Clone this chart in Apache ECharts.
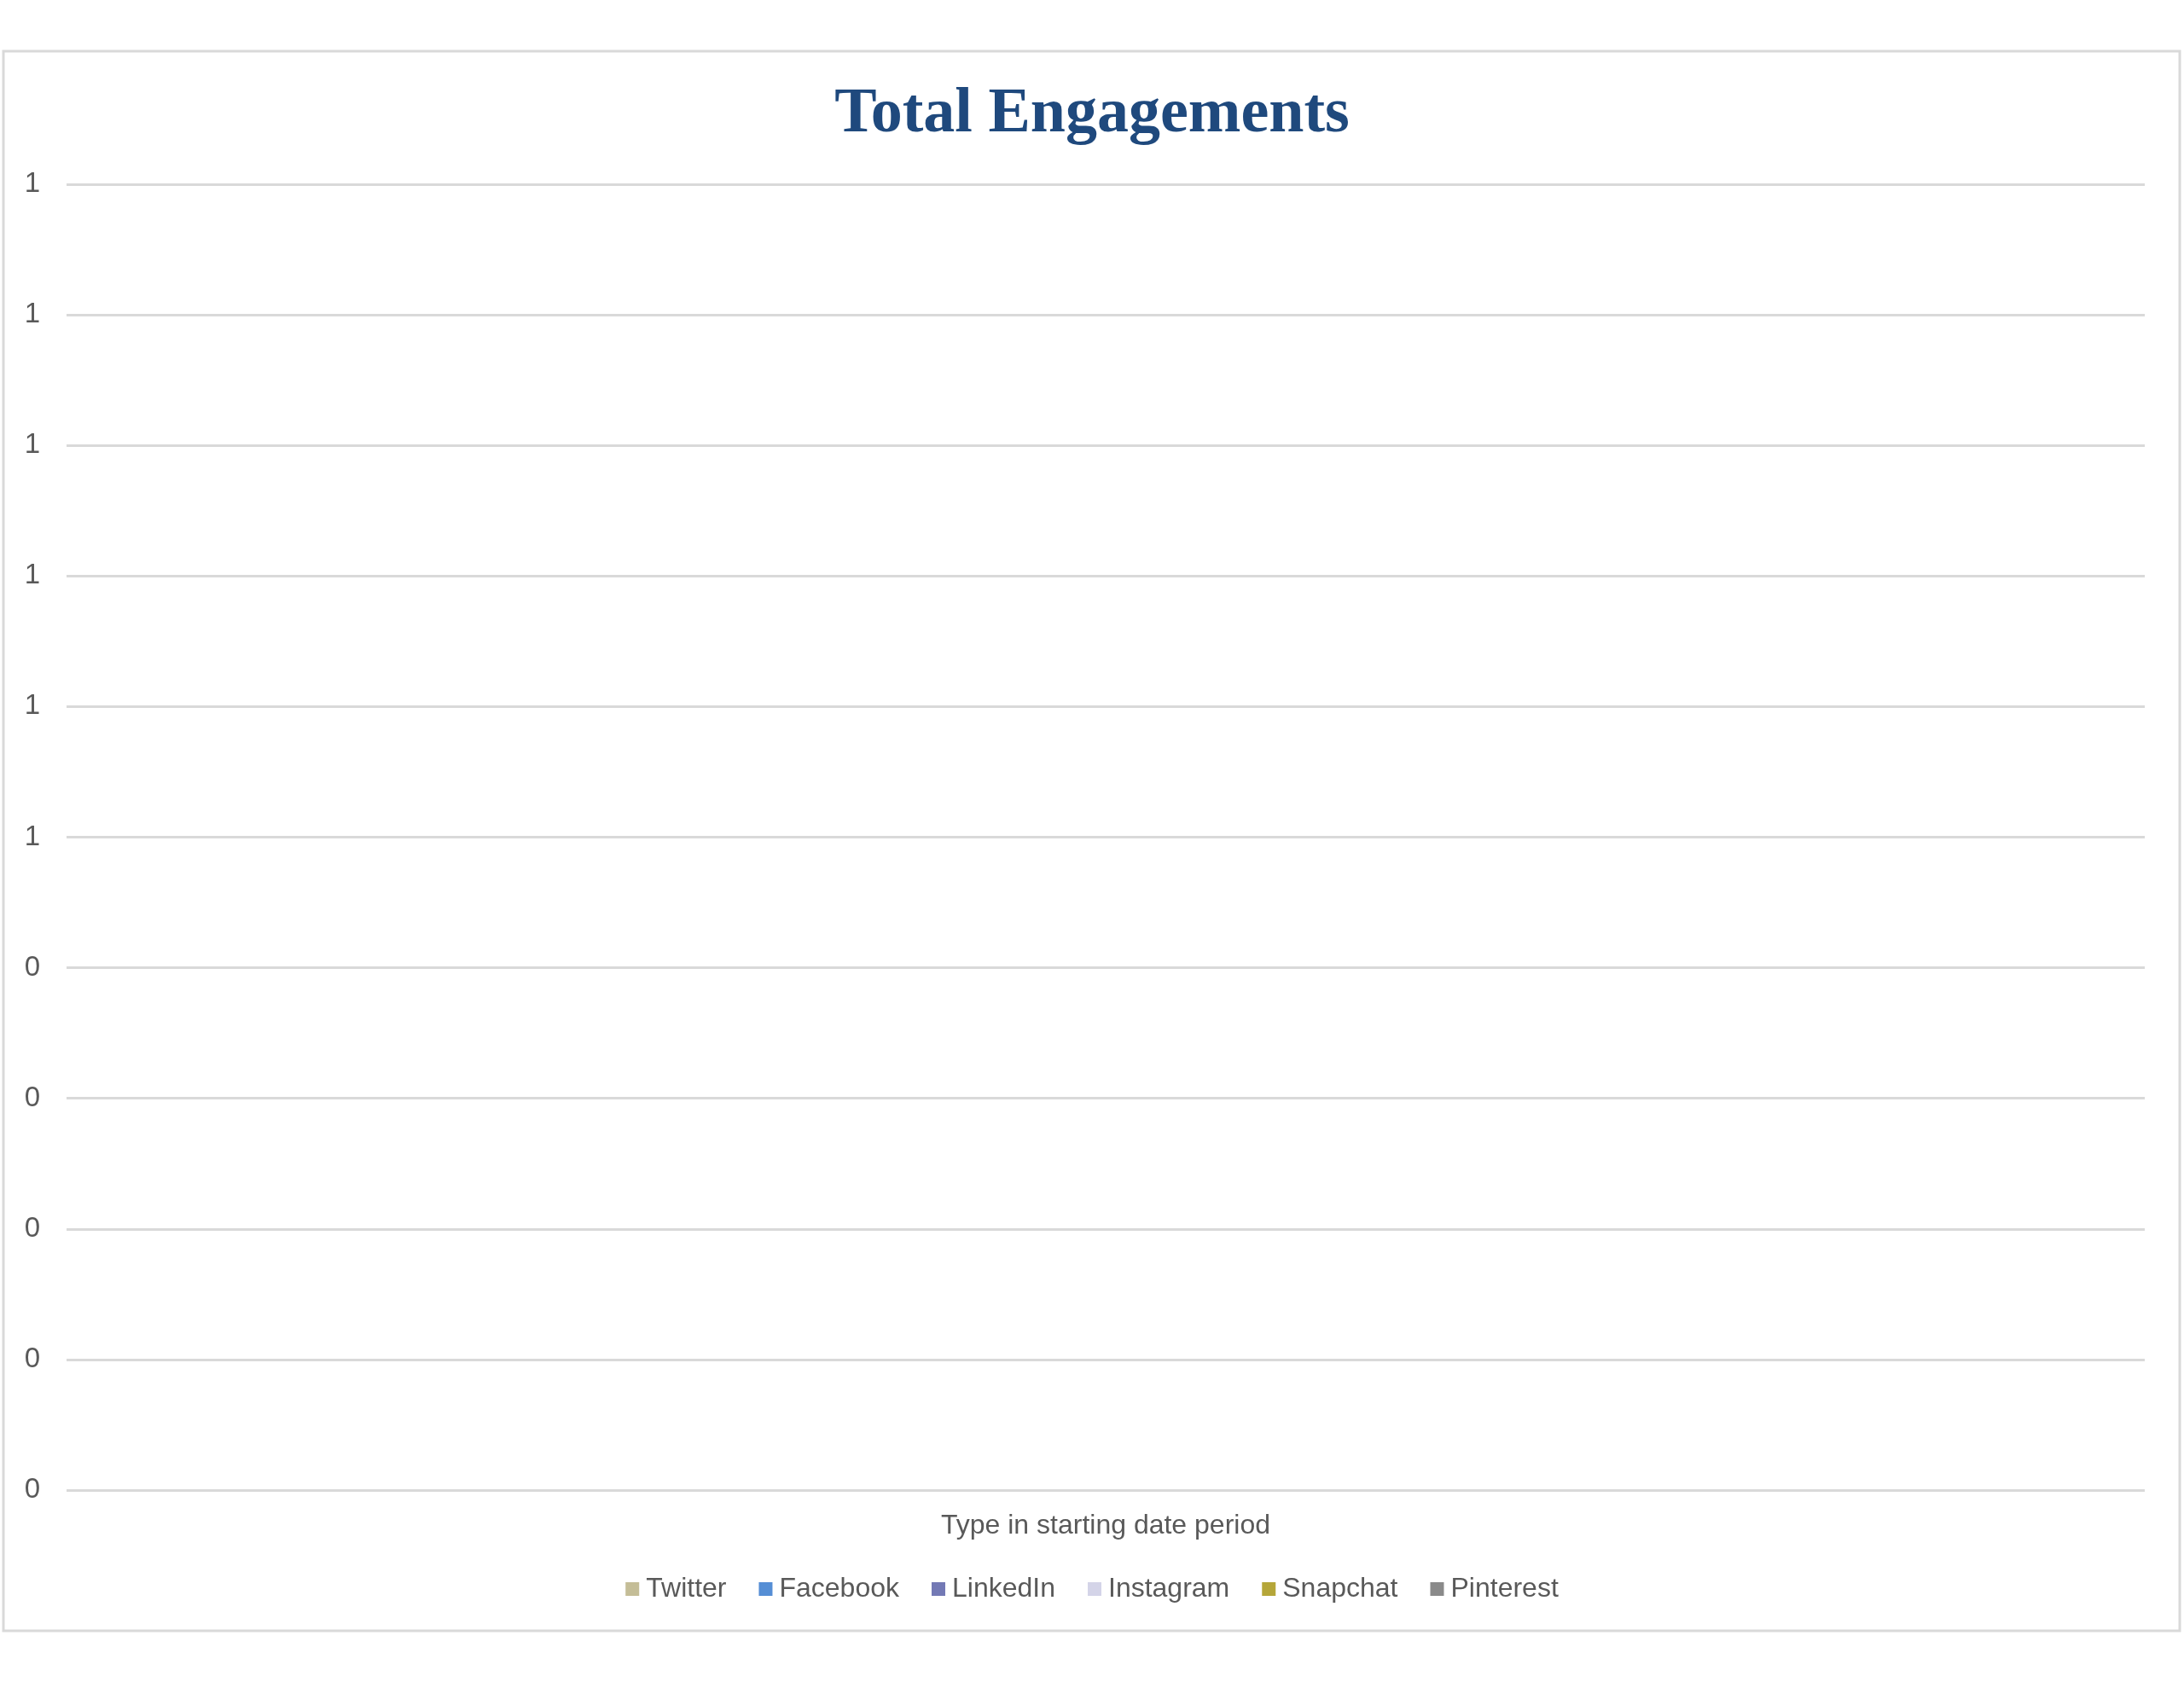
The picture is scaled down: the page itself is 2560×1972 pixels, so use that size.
<!DOCTYPE html>
<html>
<head>
<meta charset="utf-8">
<style>
  html, body { margin: 0; padding: 0; background: #ffffff; }
  #chart { width: 2560px; height: 1972px; }
</style>
<script src="https://cdn.jsdelivr.net/npm/echarts@6/dist/echarts.min.js"></script>
</head>
<body>
<div id="chart"></div>
<script>
// ---- Data ----
const categories = ['Type in starting date period'];
const seriesNames = ['Twitter', 'Facebook', 'LinkedIn', 'Instagram', 'Snapchat', 'Pinterest'];
const seriesColors = ['#C4BD97', '#558ED5', '#7379B5', '#D4D4E8', '#B5A639', '#8A8A8A'];
// The chart holds no values: every series is empty.
const twitterValues = [null];
const facebookValues = [null];
const linkedinValues = [null];
const instagramValues = [null];
const snapchatValues = [null];
const pinterestValues = [null];
const seriesValues = [twitterValues, facebookValues, linkedinValues, instagramValues, snapchatValues, pinterestValues];
// Tick labels as shown (values 0 .. 1 step 0.1, shown rounded)
const yTickLabels = ['0', '0', '0', '0', '0', '1', '1', '1', '1', '1', '1'];

const labelFont = '"Liberation Sans Narrow", "Liberation Sans", Arial, sans-serif';
const textColor = '#595959';

const chart = echarts.init(document.getElementById('chart'), null, { renderer: 'canvas' });

const option = {
  backgroundColor: '#ffffff',
  animation: false,
  title: {
    text: 'Total Engagements',
    left: 'center',
    top: 93,
    textStyle: {
      fontFamily: '"Liberation Serif", "DejaVu Serif", serif',
      fontWeight: 'bold',
      fontSize: 74,
      color: '#1F497D'
    }
  },
  graphic: [{
    type: 'rect',
    shape: { x: 4, y: 60, width: 2551, height: 1852 },
    style: { fill: 'none', stroke: '#D9D9D9', lineWidth: 3 },
    silent: true,
    z: -1
  }],
  legend: {
    data: seriesNames,
    left: 'center',
    top: 1842,
    itemWidth: 16,
    itemHeight: 16,
    itemGap: 38,
    icon: 'rect',
    textStyle: { fontFamily: labelFont, fontSize: 32, color: textColor, padding: [0, 0, 0, 3] }
  },
  grid: { left: 78, right: 46, top: 216, bottom: 225, containLabel: false },
  xAxis: {
    type: 'category',
    data: categories,
    axisLine: { show: false },
    axisTick: { show: false },
    axisLabel: { fontFamily: labelFont, fontSize: 32, color: textColor, margin: 26 }
  },
  yAxis: {
    type: 'value',
    min: 0,
    max: 1,
    interval: 0.1,
    axisLine: { show: false },
    axisTick: { show: false },
    splitLine: { lineStyle: { color: '#D9D9D9', width: 3 } },
    axisLabel: {
      fontFamily: labelFont,
      fontSize: 33,
      color: textColor,
      margin: 31,
      formatter: function (v, i) { return yTickLabels[i]; }
    }
  },
  series: seriesNames.map(function (name, i) {
    return {
      name: name,
      type: 'bar',
      data: seriesValues[i],
      itemStyle: { color: seriesColors[i] }
    };
  })
};

chart.setOption(option);
</script>
</body>
</html>
